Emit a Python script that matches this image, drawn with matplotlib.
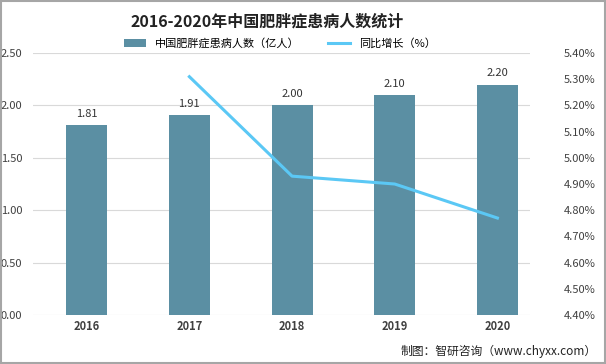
import matplotlib
matplotlib.use('Agg')
import matplotlib.pyplot as plt
from matplotlib.ticker import FuncFormatter

plt.rcParams['font.family'] = ['Noto Sans CJK SC', 'DejaVu Sans']

years = ['2016', '2017', '2018', '2019', '2020']
patients = [1.81, 1.91, 2.00, 2.10, 2.20]
growth_years = ['2017', '2018', '2019', '2020']
growth = [5.31, 4.93, 4.90, 4.77]

bar_color = '#5B8FA3'
line_color = '#5BC8F5'

fig = plt.figure(figsize=(6.06, 3.64), dpi=100)
ax = fig.add_axes([0.055, 0.135, 0.82, 0.719])
x = list(range(len(years)))
ax.bar(x, patients, width=0.4, color=bar_color, zorder=2, label='中国肥胖症患病人数（亿人）')
for xi, v in zip(x, patients):
    ax.text(xi, v + 0.06, '%.2f' % v, ha='center', va='bottom', fontsize=8, color='#333333')
ax.set_ylim(0, 2.5)
ax.set_yticks([0, 0.5, 1.0, 1.5, 2.0, 2.5])
ax.yaxis.set_major_formatter(FuncFormatter(lambda v, p: '%.2f' % v))
ax.set_xlim(-0.52, 4.32)
ax.set_xticks(x)
ax.set_xticklabels(years, fontweight='bold', fontsize=8)
ax.grid(axis='y', color='#D9D9D9', linewidth=0.8, zorder=0)
for s in ax.spines.values():
    s.set_visible(False)
ax.tick_params(length=0, labelsize=8, colors='#404040')
ax.tick_params(axis='y', pad=8)

ax2 = ax.twinx()
gx = [years.index(y) for y in growth_years]
ax2.plot(gx, growth, color=line_color, linewidth=2.2, label='同比增长（%）', zorder=3)
ax2.set_ylim(4.4, 5.4)
ax2.set_yticks([4.4 + 0.1 * i for i in range(11)])
ax2.yaxis.set_major_formatter(FuncFormatter(lambda v, p: '%.2f%%' % v))
for s in ax2.spines.values():
    s.set_visible(False)
ax2.tick_params(length=0, labelsize=8, colors='#404040', pad=24)

fig.text(0.44, 0.94, '2016-2020年中国肥胖症患病人数统计', ha='center', va='center',
         fontsize=11.5, fontweight='bold', color='#222222')
h1, l1 = ax.get_legend_handles_labels()
h2, l2 = ax2.get_legend_handles_labels()
fig.legend(h1 + h2, l1 + l2, loc='center', bbox_to_anchor=(0.462, 0.88), ncol=2,
           frameon=False, fontsize=8, handlelength=2.0, columnspacing=2.5)

fig.text(0.985, 0.035, '制图：智研咨询（www.chyxx.com）', ha='right', va='center',
         fontsize=8.5, color='#222222')

fig.patches.append(plt.Rectangle((0.002, 0.003), 0.996, 0.994, transform=fig.transFigure,
                                 fill=False, edgecolor='#A6A6A6', linewidth=1.5))
fig.savefig('out.png', dpi=100, facecolor='white')
